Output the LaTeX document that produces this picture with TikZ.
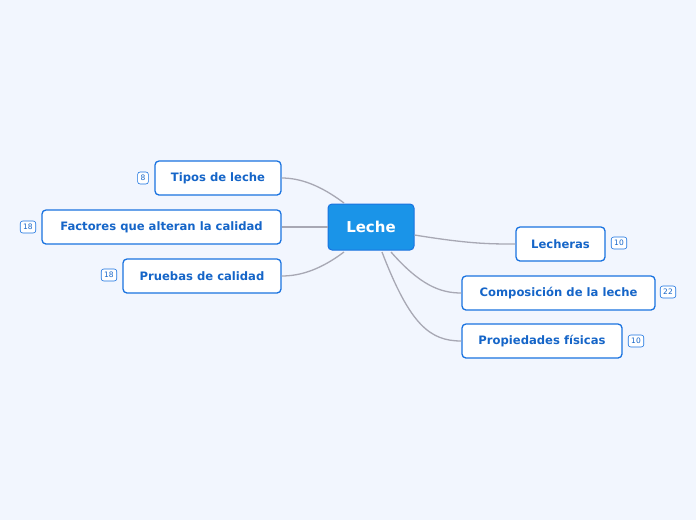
\documentclass[tikz,border=0pt]{standalone}
\usepackage{fontspec}
\setmainfont{DejaVu Sans}
\definecolor{bg}{HTML}{F2F6FE}
\definecolor{mainblue}{HTML}{1A94E8}
\definecolor{edge}{HTML}{1A73E0}
\definecolor{txt}{HTML}{1565C8}
\definecolor{conn}{HTML}{A8A8B4}
\begin{document}
\begin{tikzpicture}[x=1pt,y=-1pt,
  topic/.style={draw=edge,line width=1.3pt,fill=white,rounded corners=4pt,font=\bfseries\fontsize{11.6}{13}\selectfont,text=txt,minimum height=34pt,inner sep=0pt},
  badge/.style={draw=edge,line width=0.6pt,fill=white,rounded corners=2.5pt,font=\fontsize{7.5}{8}\selectfont,text=txt,minimum height=12pt,inner xsep=3pt,inner ysep=0pt},
  conn/.style={draw=conn,line width=1.3pt}]
\fill[bg] (0,0) rectangle (696,520);
\useasboundingbox (0,0) rectangle (696,520);
\node[fill=mainblue,draw=edge,line width=1pt,rounded corners=4pt,text=white,font=\bfseries\fontsize{15}{17}\selectfont,minimum width=86pt,minimum height=46pt] (c) at (371,227) {Leche};
\node[topic,minimum width=126pt] (t1) at (218,178) {Tipos de leche};
\node[topic,minimum width=239pt] (t2) at (161.5,227) {Factores que alteran la calidad};
\node[topic,minimum width=158pt] (t3) at (202,276) {Pruebas de calidad};
\node[topic,minimum width=89pt] (t4) at (560.5,244) {Lecheras};
\node[topic,minimum width=193pt] (t5) at (558.5,293) {Composición de la leche};
\node[topic,minimum width=160pt] (t6) at (542,341) {Propiedades físicas};
\node[badge] (b1) at (143,178) {8};
\node[badge] (b2) at (28,227) {18};
\node[badge] (b3) at (109,275) {18};
\node[badge] (b4) at (619,243) {10};
\node[badge] (b5) at (668,292) {22};
\node[badge] (b6) at (636,341) {10};
\draw[conn] (344,203) .. controls (320,185) and (300,178) .. (t1.east);
\draw[conn] (c.west) -- (t2.east);
\draw[conn] (344,252) .. controls (320,270) and (300,276) .. (t3.east);
\draw[conn] (c.east |- 0,235) .. controls (470,244) and (490,244) .. (t4.west);
\draw[conn] (391,252) .. controls (420,285) and (440,293) .. (t5.west);
\draw[conn] (382,252) .. controls (410,325) and (430,341) .. (t6.west);
\end{tikzpicture}
\end{document}
